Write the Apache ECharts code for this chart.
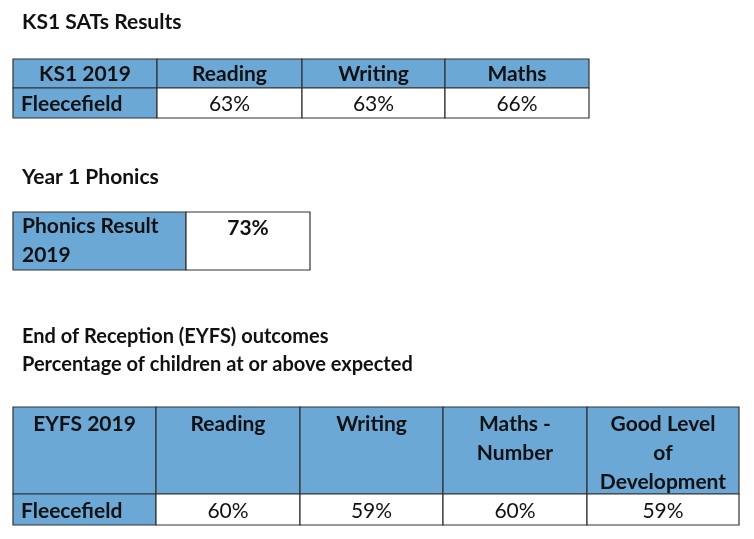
<!DOCTYPE html>
<html>
<head>
<meta charset="utf-8">
<script src="https://cdn.jsdelivr.net/npm/echarts@6/dist/echarts.min.js"></script>
<style>html,body{margin:0;padding:0;background:#fff}#main{width:754px;height:539px}</style>
</head>
<body>
<div id="main"></div>
<script>
// table contents
const ks1Headers = ['KS1 2019', 'Reading', 'Writing', 'Maths'];
const ks1Row = ['Fleecefield', '63%', '63%', '66%'];
const phonicsLabel = ['Phonics Result', '2019'];
const phonicsValue = '73%';
const eyfsHeaders = ['EYFS 2019', 'Reading', 'Writing', 'Maths -\nNumber', 'Good Level\nof\nDevelopment'];
const eyfsRow = ['Fleecefield', '60%', '59%', '60%', '59%'];

const BLUE = '#6ba8d6';
const FONT = 'Lato, "Open Sans", sans-serif';
const SZ = '21px ';
const els = [];

function text(x, y, s, opt) {
  els.push({
    type: 'text', x: x, y: y,
    style: Object.assign({
      text: s, fill: '#111', font: 'bold ' + SZ + FONT,
      align: 'left', verticalAlign: 'middle', lineHeight: 29
    }, opt || {})
  });
}

function cell(x, y, w, h, fill) {
  els.push({
    type: 'rect', shape: { x: x, y: y, width: w, height: h },
    style: { fill: fill, stroke: '#333', lineWidth: 1.2 }
  });
}

// KS1 table
text(22, 22, 'KS1 SATs Results');
const ks1Cols = [13, 157, 302, 445, 589];
for (let i = 0; i < ks1Headers.length; i++) {
  const x0 = ks1Cols[i], w = ks1Cols[i + 1] - x0;
  cell(x0, 59, w, 29, BLUE);
  cell(x0, 88, w, 30, i === 0 ? BLUE : '#fff');
  text(x0 + w / 2, 74, ks1Headers[i], { align: 'center' });
  text(i === 0 ? x0 + 8 : x0 + w / 2, 104, ks1Row[i],
    { align: i === 0 ? 'left' : 'center', font: (i === 0 ? 'bold ' : '') + SZ + FONT });
}

// Phonics
text(22, 177, 'Year 1 Phonics');
cell(13, 212, 173, 58, BLUE);
cell(186, 212, 124, 58, '#fff');
text(22, 226, phonicsLabel[0]);
text(22, 255, phonicsLabel[1]);
text(248, 228, phonicsValue, { align: 'center' });

// EYFS
text(22, 337, 'End of Reception (EYFS) outcomes', { font: 'bold 20px ' + FONT });
text(22, 365, 'Percentage of children at or above expected', { font: 'bold 20px ' + FONT });
const eyfsCols = [13, 156, 300, 443, 587, 739];
for (let i = 0; i < eyfsHeaders.length; i++) {
  const x0 = eyfsCols[i], w = eyfsCols[i + 1] - x0;
  cell(x0, 407, w, 87, BLUE);
  cell(x0, 494, w, 31, i === 0 ? BLUE : '#fff');
  els.push({
    type: 'text', x: x0 + w / 2, y: 410,
    style: { text: eyfsHeaders[i], fill: '#111', font: 'bold ' + SZ + FONT,
      align: 'center', verticalAlign: 'top', lineHeight: 29 }
  });
  text(i === 0 ? x0 + 8 : x0 + w / 2, 511, eyfsRow[i],
    { align: i === 0 ? 'left' : 'center', font: (i === 0 ? 'bold ' : '') + SZ + FONT });
}

const chart = echarts.init(document.getElementById('main'));
chart.setOption({ animation: false, graphic: { elements: els } });
</script>
</body>
</html>
